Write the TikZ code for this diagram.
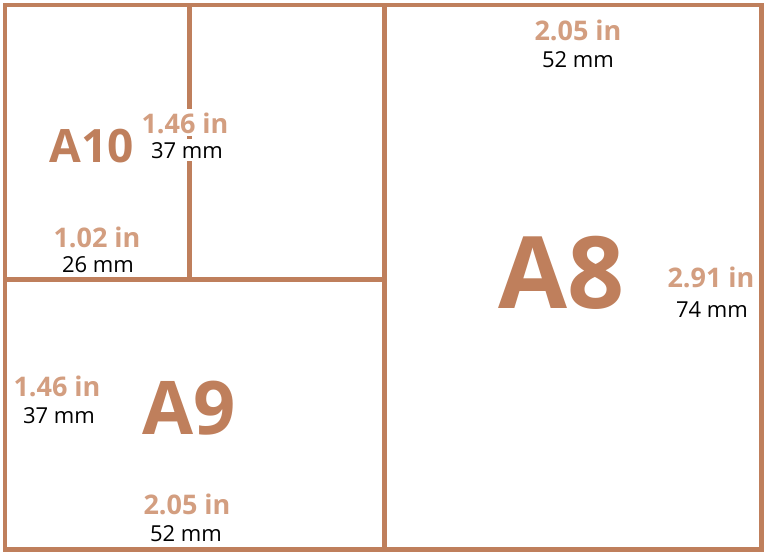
\documentclass[tikz,border=0pt]{standalone}
\usepackage{fontspec}
\setmainfont{Open Sans}
\definecolor{linebrown}{RGB}{191,127,92}
\definecolor{inbrown}{RGB}{211,158,128}
\begin{document}
\begin{tikzpicture}[x=1pt,y=-1pt,
  frame/.style={draw=linebrown,line width=4.5pt},
  inlabel/.style={text=inbrown,font=\fontsize{27}{29}\selectfont\bfseries,inner sep=0pt,anchor=base},
  mmlabel/.style={text=black,font=\fontsize{22}{24}\selectfont,inner sep=0pt,anchor=base},
  bigA/.style={text=linebrown,font=\bfseries,inner sep=0pt,anchor=base}]
\useasboundingbox (0,0) rectangle (768,555);
\fill[white] (0,0) rectangle (768,555);
% frames
\draw[frame] (5,5) rectangle (761.5,549.5);
\draw[frame] (384.5,5) -- (384.5,549.5);
\draw[frame] (5,279.5) -- (384.5,279.5);
\draw[frame] (189.5,5) -- (189.5,279.5);
% A8
\node[inlabel] (a8w) at (578,40) {2.05 in};
\node[mmlabel] (a8wm) at (578,67) {52 mm};
\node[bigA,font=\fontsize{100}{100}\selectfont\bfseries] (a8) at (562,308) {A8};
\node[inlabel] (a8h) at (711,287) {2.91 in};
\node[mmlabel] (a8hm) at (712,317) {74 mm};
% A10
\node[bigA,font=\fontsize{46}{46}\selectfont\bfseries] (a10) at (92,162) {A10};
\node[inlabel,fill=white,inner ysep=3pt,inner xsep=1pt] (a10h) at (185,133) {1.46 in};
\node[mmlabel,fill=white,inner ysep=3pt,inner xsep=1pt] (a10hm) at (187,158) {37 mm};
\node[inlabel] (a10w) at (97,247) {1.02 in};
\node[mmlabel] (a10wm) at (98,272) {26 mm};
% A9
\node[inlabel] (a9h) at (57,396) {1.46 in};
\node[mmlabel] (a9hm) at (59,423) {37 mm};
\node[bigA,font=\fontsize{74}{74}\selectfont\bfseries] (a9) at (189,434) {A9};
\node[inlabel] (a9w) at (187,514) {2.05 in};
\node[mmlabel] (a9wm) at (186,541) {52 mm};
\end{tikzpicture}
\end{document}
